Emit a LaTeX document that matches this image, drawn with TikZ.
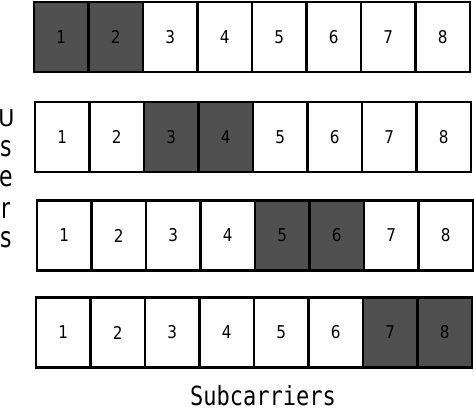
\documentclass[tikz,border=0pt]{standalone}
\usepackage{fontspec}
\setmainfont{DejaVu Sans}
\newfontfamily\monofont{DejaVu Sans Mono}
\definecolor{darkcell}{RGB}{80,80,80}
\begin{document}
\begin{tikzpicture}[x=1pt,y=-1pt,
  cell/.style={draw=black,line width=2.6pt,minimum width=54.5pt,minimum height=70pt,
    inner sep=0pt,fill=white,font=\fontsize{16}{18}\selectfont,text=black},
  busy/.style={cell,fill=darkcell},
  side/.style={font=\fontsize{22}{24}\selectfont,inner sep=0pt},
  axis/.style={font=\monofont\fontsize{22}{24}\selectfont,inner sep=0pt,anchor=base}]
\useasboundingbox (0,0) rectangle (474,410);
% rows: y centres, left edges and busy cells
\foreach \r/\yc/\xa/\ba/\bb in {1/37/34/1/2, 2/137/35/3/4, 3/235.5/37/5/6, 4/332.5/36/7/8}{
  \foreach \c in {1,...,8}{
    \pgfmathsetmacro{\xc}{\xa+27.25+(\c-1)*54.5}
    \ifnum\c=\ba
      \node[busy] (r\r c\c) at (\xc,\yc) {\scalebox{0.95}[1.1]{\c}};
    \else\ifnum\c=\bb
      \node[busy] (r\r c\c) at (\xc,\yc) {\scalebox{0.95}[1.1]{\c}};
    \else
      \node[cell] (r\r c\c) at (\xc,\yc) {\scalebox{0.95}[1.1]{\c}};
    \fi\fi
  }
}
\node[side] (u1) at (6.5,118) {\scalebox{1}[1.05]{U}};
\node[side] (u2) at (6.5,149) {\scalebox{1}[1.3]{s}};
\node[side] (u3) at (6.5,179) {\scalebox{1}[1.3]{e}};
\node[side] (u4) at (6.5,210) {\scalebox{1}[1.3]{r}};
\node[side] (u5) at (6.5,240) {\scalebox{1}[1.3]{s}};
\node[axis] (sub) at (263,405) {\scalebox{1}[1.2]{Subcarriers}};
\end{tikzpicture}
\end{document}
